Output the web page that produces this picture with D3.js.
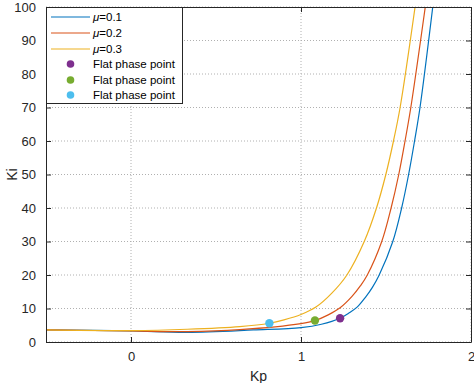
<!DOCTYPE html>
<html><head><meta charset="utf-8">
<script src="https://cdn.jsdelivr.net/npm/d3@7"></script>
<style>body{margin:0;background:#fff}svg{display:block}</style>
</head><body>
<svg id="c" width="474" height="383"></svg>
<script>
const kpBlue  = [-0.5, 0, 0.33, 0.72, 1.0, 1.12, 1.23, 1.28, 1.33, 1.38, 1.42, 1.46, 1.54, 1.592, 1.633, 1.668, 1.70, 1.775];
const kiBlue  = [3.6, 3.3, 2.9, 3.6, 4.3, 5.3, 7.1, 8.6, 10.4, 13.4, 16.3, 20, 30, 40, 50, 60, 70, 100];
const kpRed   = [-0.5, 0, 0.33, 0.64, 1.0, 1.082, 1.16, 1.23, 1.30, 1.35, 1.39, 1.475, 1.530, 1.575, 1.612, 1.646, 1.731];
const kiRed   = [3.6, 3.3, 3.1, 3.7, 5.5, 6.4, 8.1, 10.2, 13.6, 16.8, 20, 30, 40, 50, 60, 70, 100];
const kpYel   = [-0.5, 0, 0.33, 0.64, 0.814, 0.9, 1.0, 1.09, 1.18, 1.27, 1.372, 1.444, 1.499, 1.544, 1.583, 1.671];
const kiYel   = [3.6, 3.4, 3.8, 4.6, 5.6, 6.6, 8.2, 10.5, 14.5, 20, 30, 40, 50, 60, 70, 100];
const seriesNames = ["μ=0.1", "μ=0.2", "μ=0.3"];
const flatKp = [1.23, 1.082, 0.814];
const flatKi = [7.1, 6.4, 5.6];
const flatLabel = "Flat phase point";
const xTicks = [0, 1, 2];
const yTicks = [0,10,20,30,40,50,60,70,80,90,100];

const lineColors = ["#0072BD", "#D95319", "#EDB120"];
const dotColors = ["#7E2F8E", "#77AC30", "#4DBEEE"];

const svg = d3.select("#c");
const L = 46, R = 471, T = 7, B = 342;
const x = d3.scaleLinear().domain([-0.5, 2]).range([L, R]);
const y = d3.scaleLinear().domain([0, 100]).range([B, T]);
const axisCol = "#262626";

// grid
const g = svg.append("g");
g.selectAll(".gx").data(xTicks).enter().append("line")
  .attr("x1", d => x(d)).attr("x2", d => x(d)).attr("y1", T).attr("y2", B)
  .attr("stroke", "#b0b0b0").attr("stroke-width", 1).attr("stroke-dasharray", "1,2");
g.selectAll(".gy").data(yTicks).enter().append("line")
  .attr("x1", L).attr("x2", R).attr("y1", d => y(d)).attr("y2", d => y(d))
  .attr("stroke", "#b0b0b0").attr("stroke-width", 1).attr("stroke-dasharray", "1,2");

// clip
svg.append("defs").append("clipPath").attr("id", "clip")
  .append("rect").attr("x", L).attr("y", T).attr("width", R - L).attr("height", B - T);

const series = [
  kpBlue.map((k, i) => [k, kiBlue[i]]),
  kpRed.map((k, i) => [k, kiRed[i]]),
  kpYel.map((k, i) => [k, kiYel[i]])
];
const line = d3.line().x(d => x(d[0])).y(d => y(d[1])).curve(d3.curveCatmullRom.alpha(0.5));
const pg = svg.append("g").attr("clip-path", "url(#clip)");
series.forEach((s, i) => {
  pg.append("path").attr("d", line(s)).attr("fill", "none")
    .attr("stroke", lineColors[i]).attr("stroke-width", 1.2);
});
flatKp.forEach((k, i) => {
  pg.append("circle").attr("cx", x(k)).attr("cy", y(flatKi[i])).attr("r", 4.2)
    .attr("fill", dotColors[i]);
});

// axes
const fontFam = "'Liberation Sans', Arial, sans-serif";
const xAxisB = d3.axisBottom(x).tickValues(xTicks).tickSizeInner(-5).tickSizeOuter(0).tickPadding(10).tickFormat(d3.format("d"));
const xAxisT = d3.axisTop(x).tickValues(xTicks).tickSizeInner(-5).tickSizeOuter(0).tickFormat("");
const yAxisL = d3.axisLeft(y).tickValues(yTicks).tickSizeInner(-5).tickSizeOuter(0).tickPadding(10).tickFormat(d3.format("d"));
const yAxisR = d3.axisRight(y).tickValues(yTicks).tickSizeInner(-5).tickSizeOuter(0).tickFormat("");
function style(sel) {
  sel.selectAll("path").attr("stroke", axisCol).attr("stroke-width", 1);
  sel.selectAll("line").attr("stroke", axisCol);
  sel.selectAll("text").attr("fill", axisCol).style("font-family", fontFam).style("font-size", "13px");
}
svg.append("g").attr("transform", `translate(0,${B})`).call(xAxisB).call(style);
svg.append("g").attr("transform", `translate(0,${T})`).call(xAxisT).call(style);
svg.append("g").attr("transform", `translate(${L},0)`).call(yAxisL).call(style);
svg.append("g").attr("transform", `translate(${R},0)`).call(yAxisR).call(style);

// axis labels
svg.append("text").attr("x", (L + R) / 2).attr("y", 381).attr("text-anchor", "middle")
  .attr("fill", axisCol).style("font-family", fontFam).style("font-size", "14px").text("Kp");
svg.append("text").attr("transform", `translate(17,${(T + B) / 2}) rotate(-90)`).attr("text-anchor", "middle")
  .attr("fill", axisCol).style("font-family", fontFam).style("font-size", "14px").text("Ki");

// legend
const lg = svg.append("g");
lg.append("rect").attr("x", L + 0.5).attr("y", T + 0.5).attr("width", 136).attr("height", 96)
  .attr("fill", "#fff").attr("stroke", axisCol).attr("stroke-width", 1);
const rowsY = [17, 33, 49, 64, 80, 95];
seriesNames.forEach((nm, i) => {
  lg.append("line").attr("x1", 51).attr("x2", 90).attr("y1", rowsY[i]).attr("y2", rowsY[i])
    .attr("stroke", lineColors[i]).attr("stroke-width", 1.2);
  const t = lg.append("text").attr("x", 93).attr("y", rowsY[i] + 4).attr("fill", "#000")
    .style("font-family", fontFam).style("font-size", "11.5px");
  t.append("tspan").attr("font-style", "italic").text(nm.slice(0, 1));
  t.append("tspan").text(nm.slice(1));
});
dotColors.forEach((c, i) => {
  const yy = rowsY[3 + i];
  lg.append("circle").attr("cx", 70.5).attr("cy", yy).attr("r", 3.8).attr("fill", c);
  lg.append("text").attr("x", 93).attr("y", yy + 4).attr("fill", "#000")
    .style("font-family", fontFam).style("font-size", "11.5px").text(flatLabel);
});
</script>
</body></html>
